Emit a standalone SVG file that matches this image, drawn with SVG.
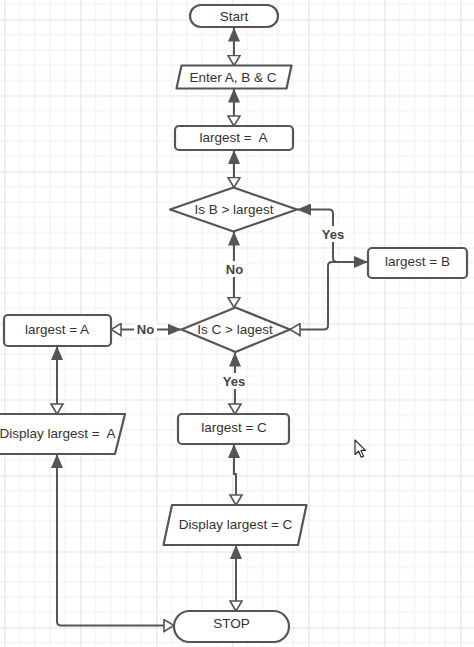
<svg xmlns="http://www.w3.org/2000/svg" width="474" height="647" viewBox="0 0 474 647">
<style>
.n{fill:#fff;stroke:#555;stroke-width:2.2;stroke-linejoin:round}
.t{font-family:"Liberation Sans",Arial,sans-serif;font-size:13.5px;fill:#333;text-anchor:middle;dominant-baseline:central;white-space:pre}
.l{font-family:"Liberation Sans",Arial,sans-serif;font-size:13px;font-weight:bold;fill:#444;text-anchor:middle;dominant-baseline:central}
.c{fill:none;stroke:#555;stroke-width:2}
.fh{marker-start:url(#mf)}
.fe{marker-end:url(#mfe)}
.hs{marker-start:url(#mhs)}
.he{marker-end:url(#mh)}
.bg{fill:#fff}
</style>
<defs>
<pattern id="grid" patternUnits="userSpaceOnUse" x="4.3" y="19.5" width="76" height="76">
<g stroke="#efefef" stroke-width="1" fill="none">
<path d="M15.2,0V76M30.4,0V76M45.6,0V76M60.8,0V76M0,15.2H76M0,30.4H76M0,45.6H76M0,60.8H76"/>
</g>
<path d="M0.5,0V76M0,0.5H76" stroke="#e2e2e2" stroke-width="1" fill="none"/>
</pattern>
<marker id="mf" viewBox="0 0 14 12" refX="14" refY="6" markerWidth="14" markerHeight="12" markerUnits="userSpaceOnUse" orient="auto-start-reverse">
<path d="M0,0L14,6L0,12z" fill="#555"/>
</marker>
<marker id="mfe" viewBox="0 0 14 12" refX="14" refY="6" markerWidth="14" markerHeight="12" markerUnits="userSpaceOnUse" orient="auto">
<path d="M0,0L14,6L0,12z" fill="#555"/>
</marker>
<marker id="mh" viewBox="0 0 12 14" refX="11" refY="7" markerWidth="12" markerHeight="14" markerUnits="userSpaceOnUse" orient="auto">
<path d="M1,1L11,7L1,13z" fill="#fff" stroke="#555" stroke-width="1.6" stroke-linejoin="miter"/>
</marker>
<marker id="mhs" viewBox="0 0 12 14" refX="11" refY="7" markerWidth="12" markerHeight="14" markerUnits="userSpaceOnUse" orient="auto-start-reverse">
<path d="M1,1L11,7L1,13z" fill="#fff" stroke="#555" stroke-width="1.6" stroke-linejoin="miter"/>
</marker>
</defs>
<rect x="0" y="0" width="474" height="647" fill="#fff"/>
<rect x="0" y="0" width="474" height="647" fill="url(#grid)"/>

<g id="connectors">
<path class="c fh he" d="M234,27.5V65.5"/>
<path class="c fh he" d="M234,88.5V126"/>
<path class="c fh he" d="M234,150V187.5"/>
<path class="c fh he" d="M234,231.5V307.5"/>
<path class="c fh he" d="M235,352.5V414"/>
<path class="c fh he" d="M234,444V474H236V505"/>
<path class="c fh he" d="M236,545V611"/>
<path class="c fh fe" d="M297,209.5H329Q333,209.5 333,213.5V258Q333,262 337,262H368"/>
<path class="c hs" d="M290,329.5H324Q328,329.5 328,325.5V266Q328,262 332,262H340"/>
<path class="c hs fe" d="M111,329.5H181.5"/>
<path class="c fh he" d="M57,346V414"/>
<path class="c fh he" d="M57,454V621.5Q57,625.5 61,625.5H174"/>
<rect class="bg" x="223" y="261" width="23" height="16"/>
<text class="l" x="234.5" y="269">No</text>
<rect class="bg" x="320" y="226" width="26" height="16"/>
<text class="l" x="333" y="234">Yes</text>
<rect class="bg" x="134" y="321" width="23" height="16"/>
<text class="l" x="145.5" y="329.5">No</text>
<rect class="bg" x="221" y="373" width="26" height="16"/>
<text class="l" x="234" y="381">Yes</text>
</g>

<g id="start"><rect class="n" x="190" y="5" width="88" height="22" rx="11"/><text class="t" x="234" y="16">Start</text></g>
<g id="enter"><polygon class="n" points="181.5,65.5 291.5,65.5 286.5,88.5 176.5,88.5"/><text class="t" x="233" y="77">Enter A, B &amp; C</text></g>
<g id="largestA1"><rect class="n" x="175" y="126" width="118" height="24" rx="4"/><text class="t" x="233.5" y="137.5">largest =  A</text></g>
<g id="isB"><polygon class="n" points="170,209.5 233.5,187.5 297,209.5 233.5,231.5"/><text class="t" x="234" y="209.5">Is B &gt; largest</text></g>
<g id="isC"><polygon class="n" points="181.5,329.5 235.5,307.5 290,329.5 235.5,352"/><text class="t" x="235" y="329.5">Is C &gt; lagest</text></g>
<g id="largestB"><rect class="n" x="368" y="248" width="99" height="30" rx="4"/><text class="t" x="417.5" y="261">largest = B</text></g>
<g id="largestA2"><rect class="n" x="4" y="315" width="107" height="31" rx="4"/><text class="t" x="57" y="329.5">largest = A</text></g>
<g id="displayA"><polygon class="n" points="-2,414 125,414 115,454 -12,454"/><text class="t" x="57.5" y="433.5">Display largest =  A</text></g>
<g id="largestC"><rect class="n" x="178" y="414" width="111" height="30" rx="4"/><text class="t" x="234" y="427.5">largest = C</text></g>
<g id="displayC"><polygon class="n" points="172,505 306.5,505 298,545 163.5,545"/><text class="t" x="235.5" y="524">Display largest = C</text></g>
<g id="stop"><rect class="n" x="174" y="611" width="115" height="31" rx="15.5"/><text class="t" x="231.5" y="623.5">STOP</text></g>

<g id="cursor"><path d="M355,440V454.5L358.6,451.2L361.2,457.2L363.6,456.2L361,450.4H365.5Z" fill="#fff" stroke="#222" stroke-width="1.1" stroke-linejoin="round"/></g>
</svg>
